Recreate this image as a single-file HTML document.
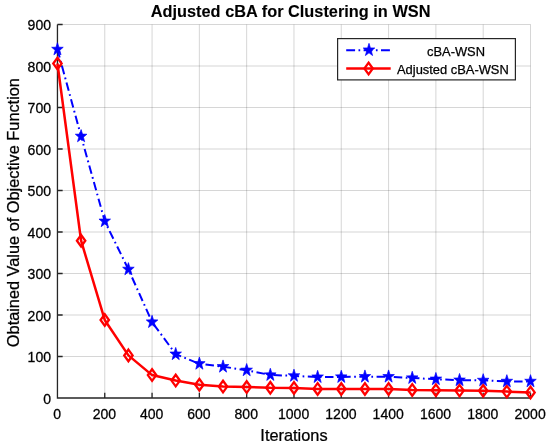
<!DOCTYPE html>
<html><head><meta charset="utf-8"><style>html,body{margin:0;padding:0;background:#fff;}body{width:550px;height:448px;overflow:hidden;}svg{display:block;}</style></head>
<body><svg width="550" height="448" viewBox="0 0 550 448">
<rect width="550" height="448" fill="#ffffff"/>
<g stroke="#262626" stroke-opacity="0.19" stroke-width="1" fill="none"><path d="M104.75,24.5V398.0"/><path d="M152.06,24.5V398.0"/><path d="M199.37,24.5V398.0"/><path d="M246.67,24.5V398.0"/><path d="M293.98,24.5V398.0"/><path d="M341.28,24.5V398.0"/><path d="M388.58,24.5V398.0"/><path d="M435.89,24.5V398.0"/><path d="M483.19,24.5V398.0"/><path d="M530.50,24.5V398.0"/><path d="M57.45,356.50H530.5"/><path d="M57.45,315.00H530.5"/><path d="M57.45,273.50H530.5"/><path d="M57.45,232.00H530.5"/><path d="M57.45,190.50H530.5"/><path d="M57.45,149.00H530.5"/><path d="M57.45,107.50H530.5"/><path d="M57.45,66.00H530.5"/><path d="M57.45,24.50H530.5"/></g>
<path d="M57.45,24.5V398.0H530.5M57.45,398.0V392.8M104.75,398.0V392.8M152.06,398.0V392.8M199.37,398.0V392.8M246.67,398.0V392.8M293.98,398.0V392.8M341.28,398.0V392.8M388.58,398.0V392.8M435.89,398.0V392.8M483.19,398.0V392.8M530.50,398.0V392.8M57.45,398.00H62.650000000000006M57.45,356.50H62.650000000000006M57.45,315.00H62.650000000000006M57.45,273.50H62.650000000000006M57.45,232.00H62.650000000000006M57.45,190.50H62.650000000000006M57.45,149.00H62.650000000000006M57.45,107.50H62.650000000000006M57.45,66.00H62.650000000000006M57.45,24.50H62.650000000000006" stroke="#262626" stroke-width="1.3" fill="none"/>
<polyline points="57.45,63.51 81.10,240.72 104.75,319.98 128.41,355.38 152.06,375.09 175.71,380.57 199.37,384.72 223.02,386.59 246.67,387.09 270.32,387.79 293.98,387.92 317.63,388.91 341.28,389.04 364.93,388.99 388.58,388.99 412.24,389.99 435.89,390.20 459.54,390.61 483.19,390.78 506.85,391.61 530.50,392.40" fill="none" stroke="#ff0000" stroke-width="2.5" stroke-linejoin="round"/>
<polyline points="57.45,49.40 81.10,136.30 104.75,221.21 128.41,269.35 152.06,322.06 175.71,354.18 199.37,363.76 223.02,366.67 246.67,370.28 270.32,374.97 293.98,375.88 317.63,377.08 341.28,377.00 364.93,376.67 388.58,376.67 412.24,378.00 435.89,379.20 459.54,380.20 483.19,380.40 506.85,381.40 530.50,381.40" fill="none" stroke="#0000ff" stroke-width="2" stroke-dasharray="8.5 3.5 1.7 3.5"/>
<polygon points="57.45,57.71 61.65,63.51 57.45,69.31 53.25,63.51" fill="none" stroke="#ff0000" stroke-width="2.3"/>
<polygon points="81.10,234.91 85.30,240.72 81.10,246.52 76.90,240.72" fill="none" stroke="#ff0000" stroke-width="2.3"/>
<polygon points="104.75,314.18 108.95,319.98 104.75,325.78 100.55,319.98" fill="none" stroke="#ff0000" stroke-width="2.3"/>
<polygon points="128.41,349.58 132.61,355.38 128.41,361.18 124.21,355.38" fill="none" stroke="#ff0000" stroke-width="2.3"/>
<polygon points="152.06,369.29 156.26,375.09 152.06,380.89 147.86,375.09" fill="none" stroke="#ff0000" stroke-width="2.3"/>
<polygon points="175.71,374.77 179.91,380.57 175.71,386.37 171.51,380.57" fill="none" stroke="#ff0000" stroke-width="2.3"/>
<polygon points="199.37,378.92 203.56,384.72 199.37,390.52 195.17,384.72" fill="none" stroke="#ff0000" stroke-width="2.3"/>
<polygon points="223.02,380.79 227.22,386.59 223.02,392.39 218.82,386.59" fill="none" stroke="#ff0000" stroke-width="2.3"/>
<polygon points="246.67,381.29 250.87,387.09 246.67,392.89 242.47,387.09" fill="none" stroke="#ff0000" stroke-width="2.3"/>
<polygon points="270.32,381.99 274.52,387.79 270.32,393.59 266.12,387.79" fill="none" stroke="#ff0000" stroke-width="2.3"/>
<polygon points="293.98,382.12 298.18,387.92 293.98,393.72 289.78,387.92" fill="none" stroke="#ff0000" stroke-width="2.3"/>
<polygon points="317.63,383.11 321.83,388.91 317.63,394.71 313.43,388.91" fill="none" stroke="#ff0000" stroke-width="2.3"/>
<polygon points="341.28,383.24 345.48,389.04 341.28,394.84 337.08,389.04" fill="none" stroke="#ff0000" stroke-width="2.3"/>
<polygon points="364.93,383.19 369.13,388.99 364.93,394.79 360.73,388.99" fill="none" stroke="#ff0000" stroke-width="2.3"/>
<polygon points="388.58,383.19 392.78,388.99 388.58,394.79 384.38,388.99" fill="none" stroke="#ff0000" stroke-width="2.3"/>
<polygon points="412.24,384.19 416.44,389.99 412.24,395.79 408.04,389.99" fill="none" stroke="#ff0000" stroke-width="2.3"/>
<polygon points="435.89,384.40 440.09,390.20 435.89,396.00 431.69,390.20" fill="none" stroke="#ff0000" stroke-width="2.3"/>
<polygon points="459.54,384.81 463.74,390.61 459.54,396.41 455.34,390.61" fill="none" stroke="#ff0000" stroke-width="2.3"/>
<polygon points="483.19,384.98 487.39,390.78 483.19,396.58 479.00,390.78" fill="none" stroke="#ff0000" stroke-width="2.3"/>
<polygon points="506.85,385.81 511.05,391.61 506.85,397.41 502.65,391.61" fill="none" stroke="#ff0000" stroke-width="2.3"/>
<polygon points="530.50,386.60 534.70,392.40 530.50,398.20 526.30,392.40" fill="none" stroke="#ff0000" stroke-width="2.3"/>
<polygon points="57.45,42.65 58.88,47.22 63.23,47.31 59.76,50.23 61.02,54.86 57.45,52.10 53.88,54.86 55.14,50.23 51.67,47.31 56.02,47.22" fill="#0000ff" stroke="#0000ff" stroke-width="0.7" stroke-linejoin="round"/>
<polygon points="81.10,129.55 82.53,134.12 86.88,134.22 83.41,137.14 84.67,141.76 81.10,139.00 77.53,141.76 78.79,137.14 75.32,134.22 79.67,134.12" fill="#0000ff" stroke="#0000ff" stroke-width="0.7" stroke-linejoin="round"/>
<polygon points="104.75,214.46 106.18,219.03 110.53,219.12 107.07,222.04 108.33,226.67 104.75,223.91 101.18,226.67 102.44,222.04 98.98,219.12 103.33,219.03" fill="#0000ff" stroke="#0000ff" stroke-width="0.7" stroke-linejoin="round"/>
<polygon points="128.41,262.60 129.84,267.17 134.19,267.26 130.72,270.18 131.98,274.81 128.41,272.05 124.84,274.81 126.10,270.18 122.63,267.26 126.98,267.17" fill="#0000ff" stroke="#0000ff" stroke-width="0.7" stroke-linejoin="round"/>
<polygon points="152.06,315.31 153.49,319.87 157.84,319.97 154.37,322.89 155.63,327.52 152.06,324.75 148.49,327.52 149.75,322.89 146.28,319.97 150.63,319.87" fill="#0000ff" stroke="#0000ff" stroke-width="0.7" stroke-linejoin="round"/>
<polygon points="175.71,347.43 177.14,351.99 181.49,352.09 178.02,355.01 179.28,359.64 175.71,356.88 172.14,359.64 173.40,355.01 169.93,352.09 174.28,351.99" fill="#0000ff" stroke="#0000ff" stroke-width="0.7" stroke-linejoin="round"/>
<polygon points="199.37,357.01 200.79,361.58 205.14,361.68 201.68,364.60 202.94,369.22 199.37,366.46 195.79,369.22 197.05,364.60 193.59,361.68 197.94,361.58" fill="#0000ff" stroke="#0000ff" stroke-width="0.7" stroke-linejoin="round"/>
<polygon points="223.02,359.92 224.45,364.48 228.80,364.58 225.33,367.50 226.59,372.13 223.02,369.37 219.45,372.13 220.71,367.50 217.24,364.58 221.59,364.48" fill="#0000ff" stroke="#0000ff" stroke-width="0.7" stroke-linejoin="round"/>
<polygon points="246.67,363.53 248.10,368.09 252.45,368.19 248.98,371.11 250.24,375.74 246.67,372.98 243.10,375.74 244.36,371.11 240.89,368.19 245.24,368.09" fill="#0000ff" stroke="#0000ff" stroke-width="0.7" stroke-linejoin="round"/>
<polygon points="270.32,368.22 271.75,372.78 276.10,372.88 272.63,375.80 273.89,380.43 270.32,377.67 266.75,380.43 268.01,375.80 264.54,372.88 268.89,372.78" fill="#0000ff" stroke="#0000ff" stroke-width="0.7" stroke-linejoin="round"/>
<polygon points="293.98,369.13 295.40,373.70 299.75,373.79 296.29,376.71 297.55,381.34 293.98,378.58 290.40,381.34 291.66,376.71 288.20,373.79 292.55,373.70" fill="#0000ff" stroke="#0000ff" stroke-width="0.7" stroke-linejoin="round"/>
<polygon points="317.63,370.33 319.06,374.90 323.41,375.00 319.94,377.92 321.20,382.54 317.63,379.78 314.06,382.54 315.32,377.92 311.85,375.00 316.20,374.90" fill="#0000ff" stroke="#0000ff" stroke-width="0.7" stroke-linejoin="round"/>
<polygon points="341.28,370.25 342.71,374.82 347.06,374.92 343.59,377.84 344.85,382.46 341.28,379.70 337.71,382.46 338.97,377.84 335.50,374.92 339.85,374.82" fill="#0000ff" stroke="#0000ff" stroke-width="0.7" stroke-linejoin="round"/>
<polygon points="364.93,369.92 366.36,374.48 370.71,374.58 367.24,377.50 368.50,382.13 364.93,379.37 361.36,382.13 362.62,377.50 359.15,374.58 363.50,374.48" fill="#0000ff" stroke="#0000ff" stroke-width="0.7" stroke-linejoin="round"/>
<polygon points="388.58,369.92 390.01,374.48 394.36,374.58 390.90,377.50 392.16,382.13 388.58,379.37 385.01,382.13 386.27,377.50 382.81,374.58 387.16,374.48" fill="#0000ff" stroke="#0000ff" stroke-width="0.7" stroke-linejoin="round"/>
<polygon points="412.24,371.25 413.67,375.81 418.02,375.91 414.55,378.83 415.81,383.46 412.24,380.70 408.67,383.46 409.93,378.83 406.46,375.91 410.81,375.81" fill="#0000ff" stroke="#0000ff" stroke-width="0.7" stroke-linejoin="round"/>
<polygon points="435.89,372.45 437.32,377.02 441.67,377.11 438.20,380.03 439.46,384.66 435.89,381.90 432.32,384.66 433.58,380.03 430.11,377.11 434.46,377.02" fill="#0000ff" stroke="#0000ff" stroke-width="0.7" stroke-linejoin="round"/>
<polygon points="459.54,373.45 460.97,378.01 465.32,378.11 461.85,381.03 463.11,385.66 459.54,382.90 455.97,385.66 457.23,381.03 453.76,378.11 458.11,378.01" fill="#0000ff" stroke="#0000ff" stroke-width="0.7" stroke-linejoin="round"/>
<polygon points="483.19,373.65 484.62,378.22 488.97,378.32 485.51,381.24 486.77,385.86 483.19,383.10 479.62,385.86 480.88,381.24 477.42,378.32 481.77,378.22" fill="#0000ff" stroke="#0000ff" stroke-width="0.7" stroke-linejoin="round"/>
<polygon points="506.85,374.65 508.28,379.22 512.63,379.31 509.16,382.23 510.42,386.86 506.85,384.10 503.28,386.86 504.54,382.23 501.07,379.31 505.42,379.22" fill="#0000ff" stroke="#0000ff" stroke-width="0.7" stroke-linejoin="round"/>
<polygon points="530.50,374.65 531.93,379.22 536.28,379.31 532.81,382.23 534.07,386.86 530.50,384.10 526.93,386.86 528.19,382.23 524.72,379.31 529.07,379.22" fill="#0000ff" stroke="#0000ff" stroke-width="0.7" stroke-linejoin="round"/>
<text font-family="'Liberation Sans', Arial, Helvetica, sans-serif" font-size="13.5" font-weight="normal" fill="#000000" stroke="#000000" stroke-width="0.25" text-anchor="end" transform="translate(51.00,403.90) scale(1.04,1.08)">0</text>
<text font-family="'Liberation Sans', Arial, Helvetica, sans-serif" font-size="13.5" font-weight="normal" fill="#000000" stroke="#000000" stroke-width="0.25" text-anchor="end" transform="translate(51.00,362.40) scale(1.04,1.08)">100</text>
<text font-family="'Liberation Sans', Arial, Helvetica, sans-serif" font-size="13.5" font-weight="normal" fill="#000000" stroke="#000000" stroke-width="0.25" text-anchor="end" transform="translate(51.00,320.90) scale(1.04,1.08)">200</text>
<text font-family="'Liberation Sans', Arial, Helvetica, sans-serif" font-size="13.5" font-weight="normal" fill="#000000" stroke="#000000" stroke-width="0.25" text-anchor="end" transform="translate(51.00,279.40) scale(1.04,1.08)">300</text>
<text font-family="'Liberation Sans', Arial, Helvetica, sans-serif" font-size="13.5" font-weight="normal" fill="#000000" stroke="#000000" stroke-width="0.25" text-anchor="end" transform="translate(51.00,237.90) scale(1.04,1.08)">400</text>
<text font-family="'Liberation Sans', Arial, Helvetica, sans-serif" font-size="13.5" font-weight="normal" fill="#000000" stroke="#000000" stroke-width="0.25" text-anchor="end" transform="translate(51.00,196.40) scale(1.04,1.08)">500</text>
<text font-family="'Liberation Sans', Arial, Helvetica, sans-serif" font-size="13.5" font-weight="normal" fill="#000000" stroke="#000000" stroke-width="0.25" text-anchor="end" transform="translate(51.00,154.90) scale(1.04,1.08)">600</text>
<text font-family="'Liberation Sans', Arial, Helvetica, sans-serif" font-size="13.5" font-weight="normal" fill="#000000" stroke="#000000" stroke-width="0.25" text-anchor="end" transform="translate(51.00,113.40) scale(1.04,1.08)">700</text>
<text font-family="'Liberation Sans', Arial, Helvetica, sans-serif" font-size="13.5" font-weight="normal" fill="#000000" stroke="#000000" stroke-width="0.25" text-anchor="end" transform="translate(51.00,71.90) scale(1.04,1.08)">800</text>
<text font-family="'Liberation Sans', Arial, Helvetica, sans-serif" font-size="13.5" font-weight="normal" fill="#000000" stroke="#000000" stroke-width="0.25" text-anchor="end" transform="translate(51.00,30.40) scale(1.04,1.08)">900</text>
<text font-family="'Liberation Sans', Arial, Helvetica, sans-serif" font-size="13.5" font-weight="normal" fill="#000000" stroke="#000000" stroke-width="0.25" text-anchor="middle" transform="translate(57.05,419.00) scale(1.04,1.08)">0</text>
<text font-family="'Liberation Sans', Arial, Helvetica, sans-serif" font-size="13.5" font-weight="normal" fill="#000000" stroke="#000000" stroke-width="0.25" text-anchor="middle" transform="translate(104.35,419.00) scale(1.04,1.08)">200</text>
<text font-family="'Liberation Sans', Arial, Helvetica, sans-serif" font-size="13.5" font-weight="normal" fill="#000000" stroke="#000000" stroke-width="0.25" text-anchor="middle" transform="translate(151.66,419.00) scale(1.04,1.08)">400</text>
<text font-family="'Liberation Sans', Arial, Helvetica, sans-serif" font-size="13.5" font-weight="normal" fill="#000000" stroke="#000000" stroke-width="0.25" text-anchor="middle" transform="translate(198.97,419.00) scale(1.04,1.08)">600</text>
<text font-family="'Liberation Sans', Arial, Helvetica, sans-serif" font-size="13.5" font-weight="normal" fill="#000000" stroke="#000000" stroke-width="0.25" text-anchor="middle" transform="translate(246.27,419.00) scale(1.04,1.08)">800</text>
<text font-family="'Liberation Sans', Arial, Helvetica, sans-serif" font-size="13.5" font-weight="normal" fill="#000000" stroke="#000000" stroke-width="0.25" text-anchor="middle" transform="translate(293.58,419.00) scale(1.04,1.08)">1000</text>
<text font-family="'Liberation Sans', Arial, Helvetica, sans-serif" font-size="13.5" font-weight="normal" fill="#000000" stroke="#000000" stroke-width="0.25" text-anchor="middle" transform="translate(340.88,419.00) scale(1.04,1.08)">1200</text>
<text font-family="'Liberation Sans', Arial, Helvetica, sans-serif" font-size="13.5" font-weight="normal" fill="#000000" stroke="#000000" stroke-width="0.25" text-anchor="middle" transform="translate(388.19,419.00) scale(1.04,1.08)">1400</text>
<text font-family="'Liberation Sans', Arial, Helvetica, sans-serif" font-size="13.5" font-weight="normal" fill="#000000" stroke="#000000" stroke-width="0.25" text-anchor="middle" transform="translate(435.49,419.00) scale(1.04,1.08)">1600</text>
<text font-family="'Liberation Sans', Arial, Helvetica, sans-serif" font-size="13.5" font-weight="normal" fill="#000000" stroke="#000000" stroke-width="0.25" text-anchor="middle" transform="translate(482.80,419.00) scale(1.04,1.08)">1800</text>
<text font-family="'Liberation Sans', Arial, Helvetica, sans-serif" font-size="13.5" font-weight="normal" fill="#000000" stroke="#000000" stroke-width="0.25" text-anchor="middle" transform="translate(530.10,419.00) scale(1.04,1.08)">2000</text>
<text font-family="'Liberation Sans', Arial, Helvetica, sans-serif" font-size="15.8" font-weight="normal" fill="#000000" stroke="#000000" stroke-width="0.25" text-anchor="middle" transform="translate(293.95,440.70) scale(1.035,1)">Iterations</text>
<text font-family="'Liberation Sans', Arial, Helvetica, sans-serif" font-size="16" font-weight="normal" fill="#000000" stroke="#000000" stroke-width="0.25" text-anchor="middle" transform="translate(19.00,212.60) rotate(-90) scale(1.02,1)">Obtained Value of Objective Function</text>
<text font-family="'Liberation Sans', Arial, Helvetica, sans-serif" font-size="15.6" font-weight="bold" fill="#000000" stroke="#000000" stroke-width="0.1" text-anchor="middle" transform="translate(290.60,16.60) scale(1.047,1)">Adjusted cBA for Clustering in WSN</text>
<rect x="337.6" y="38.6" width="177.8" height="41.3" fill="#ffffff" stroke="#262626" stroke-width="1.2"/>
<path d="M346.2,50.25H390" stroke="#0000ff" stroke-width="2" stroke-dasharray="8.9 3.4 1.7 3.4" fill="none"/>
<polygon points="369.00,43.35 370.43,47.92 374.78,48.01 371.31,50.93 372.57,55.56 369.00,52.80 365.43,55.56 366.69,50.93 363.22,48.01 367.57,47.92" fill="#0000ff" stroke="#0000ff" stroke-width="0.7" stroke-linejoin="round"/>
<path d="M346.2,68.5H390.7" stroke="#ff0000" stroke-width="2.4" fill="none"/>
<polygon points="368.60,62.70 372.80,68.50 368.60,74.30 364.40,68.50" fill="none" stroke="#ff0000" stroke-width="2.3"/>
<text font-family="'Liberation Sans', Arial, Helvetica, sans-serif" font-size="12.9" font-weight="normal" fill="#000000" stroke="#000000" stroke-width="0.25" text-anchor="start" transform="translate(427.00,55.60)">cBA-WSN</text>
<text font-family="'Liberation Sans', Arial, Helvetica, sans-serif" font-size="12.9" font-weight="normal" fill="#000000" stroke="#000000" stroke-width="0.25" text-anchor="start" transform="translate(397.00,73.60)">Adjusted cBA-WSN</text>
</svg></body></html>
